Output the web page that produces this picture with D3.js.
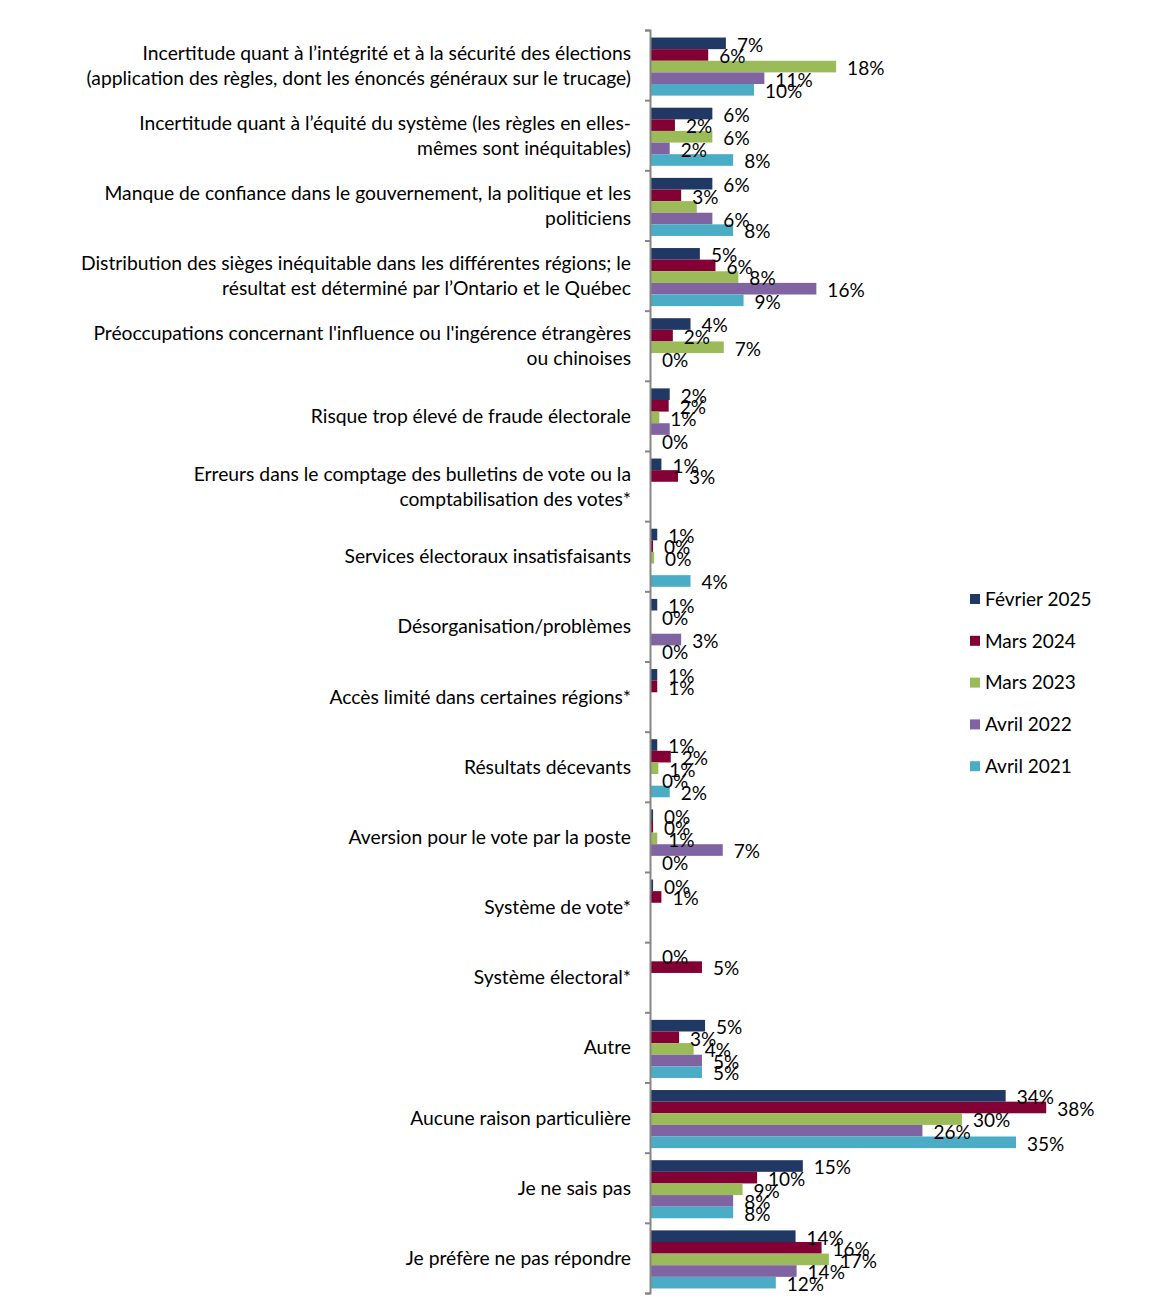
<!DOCTYPE html>
<html>
<head>
<meta charset="utf-8">
<script src="https://cdn.jsdelivr.net/npm/d3@7"></script>
<style>
  body { margin: 0; background: #fff; }
  text { font-family: Lato, "Open Sans", sans-serif; fill: #000; }
</style>
</head>
<body>
<div id="chart-area"></div>
<script>
// categories (line breaks as in the original)
const categories = [
  "Incertitude quant à l’intégrité et à la sécurité des élections\n(application des règles, dont les énoncés généraux sur le trucage)",
  "Incertitude quant à l’équité du système (les règles en elles-\nmêmes sont inéquitables)",
  "Manque de confiance dans le gouvernement, la politique et les\npoliticiens",
  "Distribution des sièges inéquitable dans les différentes régions; le\nrésultat est déterminé par l’Ontario et le Québec",
  "Préoccupations concernant l'influence ou l'ingérence étrangères\nou chinoises",
  "Risque trop élevé de fraude électorale",
  "Erreurs dans le comptage des bulletins de vote ou la\ncomptabilisation des votes*",
  "Services électoraux insatisfaisants",
  "Désorganisation/problèmes",
  "Accès limité dans certaines régions*",
  "Résultats décevants",
  "Aversion pour le vote par la poste",
  "Système de vote*",
  "Système électoral*",
  "Autre",
  "Aucune raison particulière",
  "Je ne sais pas",
  "Je préfère ne pas répondre"
];

const seriesNames = ["Février 2025", "Mars 2024", "Mars 2023", "Avril 2022", "Avril 2021"];

// values in %, null = not asked
const fev2025   = [7.2, 5.9, 5.9, 4.7, 3.8, 1.8, 1.0, 0.6, 0.6, 0.6, 0.6, 0.2, 0.2, 0, 5.2, 34.1, 14.6, 13.9];
const mars2024  = [5.5, 2.3, 2.9, 6.2, 2.1, 1.7, 2.6, 0.2, 0, 0.6, 1.9, 0.2, 1.0, 4.9, 2.7, 38.0, 10.2, 16.4];
const mars2023  = [17.8, 5.9, 4.4, 8.4, 7.0, 0.8, null, 0.3, null, null, 0.7, 0.6, null, null, 4.1, 29.9, 8.8, 17.1];
const avril2022 = [10.9, 1.8, 5.9, 15.9, 0, 1.8, null, null, 2.9, null, 0, 6.9, null, null, 4.9, 26.1, 7.9, 14.0];
const avril2021 = [9.9, 7.9, 7.9, 8.9, null, 0, null, 3.8, 0, null, 1.8, 0, null, null, 4.9, 35.1, 7.9, 12.0];

// data labels not shown in the original: [category, series]
const hiddenLabels = [[2, 2], [5, 3]];

const colors = ["#203864", "#820034", "#9bbb59", "#8064a2", "#4bacc6"];

const allSeries = [fev2025, mars2024, mars2023, avril2022, avril2021];

const width = 1164, height = 1309;
const margin = { left: 651, top: 30, bottom: 16 };

const svg = d3.select("#chart-area")
  .append("svg")
    .attr("width", width)
    .attr("height", height);

const y = d3.scaleBand()
  .domain(d3.range(categories.length))
  .range([margin.top, height - margin.bottom]);

const ySeries = d3.scaleBand()
  .domain(d3.range(seriesNames.length))
  .range([1.5, y.bandwidth() + 1.5])
  .paddingOuter(0.52);

const x = d3.scaleLinear()
  .domain([0, 40])
  .range([margin.left, margin.left + 416]);

// bars
const rows = [];
allSeries.forEach((vals, s) => {
  vals.forEach((v, c) => {
    if (v !== null) rows.push({ c: c, s: s, v: v });
  });
});

svg.append("g").selectAll("rect").data(rows)
  .enter().append("rect")
    .attr("x", x(0))
    .attr("y", (d) => y(d.c) + ySeries(d.s))
    .attr("width", (d) => x(d.v) - x(0))
    .attr("height", ySeries.bandwidth())
    .attr("fill", (d) => colors[d.s]);

// data labels
const isHidden = (d) => hiddenLabels.some((h) => h[0] === d.c && h[1] === d.s);
svg.append("g").selectAll("text").data(rows.filter((d) => !isHidden(d)))
  .enter().append("text")
    .attr("x", (d) => x(d.v) + 11)
    .attr("y", (d) => y(d.c) + ySeries(d.s) + ySeries.bandwidth() / 2 + 1.5)
    .attr("dy", "0.36em")
    .attr("font-size", "19px")
    .text((d) => Math.round(d.v) + "%");

// category axis with ticks between categories
const yTicks = d3.scaleLinear()
  .domain([0, categories.length])
  .range([margin.top, height - margin.bottom]);

const axis = svg.append("g")
  .attr("transform", "translate(" + 650 + ",0)")
  .call(d3.axisLeft(yTicks).tickValues(d3.range(categories.length + 1)).tickSize(5).tickFormat(""));
axis.select(".domain").attr("stroke", "#868686").attr("stroke-width", 2);
axis.selectAll(".tick line").attr("stroke", "#868686").attr("stroke-width", 2);

// category labels
const catLabels = svg.append("g").selectAll("text").data(categories)
  .enter().append("text")
    .attr("text-anchor", "end")
    .attr("font-size", "19.3px")
    .attr("y", (d, i) => y(i) + y.bandwidth() / 2);

catLabels.each(function(d) {
  const lines = d.split("\n");
  const el = d3.select(this);
  lines.forEach((line, k) => {
    el.append("tspan")
      .attr("x", 631)
      .attr("dy", k === 0 ? ((-(lines.length - 1) * 25) / 2 + 7) + "px" : "25px")
      .text(line);
  });
});

// legend
const legend = svg.append("g").selectAll("g").data(seriesNames)
  .enter().append("g")
    .attr("transform", (d, i) => "translate(970," + (599 + i * 41.8) + ")");
legend.append("rect")
  .attr("x", 0).attr("y", -5)
  .attr("width", 10).attr("height", 10)
  .attr("fill", (d, i) => colors[i]);
legend.append("text")
  .attr("x", 15)
  .attr("dy", "0.36em")
  .attr("font-size", "19px")
  .text((d) => d);
</script>
</body>
</html>
